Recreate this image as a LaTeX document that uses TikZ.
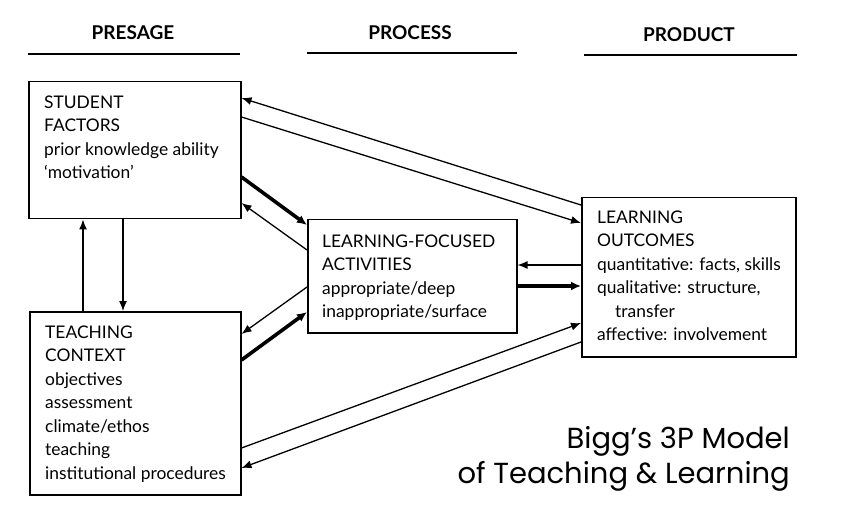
\documentclass[tikz,border=0pt]{standalone}
\usepackage{fontspec}
\setmainfont{Lato}
\newfontfamily\titlefont{Poppins}
\usetikzlibrary{arrows.meta}

\tikzset{
	box/.style={draw, line width=1.5pt, inner sep=0pt},
	boxtext/.style={anchor=north west, align=left, inner sep=0pt, font=\fontsize{17.4}{23.5}\selectfont},
	heading/.style={anchor=base, inner sep=0pt, font=\fontsize{19}{21}\selectfont\bfseries},
	thinarrow/.style={-{Latex[length=10pt,width=8pt]}, line width=1.3pt},
	thickarrow/.style={-{Latex[length=10pt,width=9pt]}, line width=3.6pt}
}

\begin{document}
\begin{tikzpicture}[x=1pt, y=-1pt]
		\useasboundingbox (0,0) rectangle (850,510);

		% headings
		\node [heading] (presage) at (133,40) {PRESAGE};
		\node [heading] (process) at (410,40) {PROCESS};
		\node [heading] (product) at (689,42) {PRODUCT};
		\draw [line width=1.4pt] (28,54) -- (240,54);
		\draw [line width=1.4pt] (307,53) -- (517,53);
		\draw [line width=1.4pt] (584,55) -- (797,55);

		% boxes
		\node [box, anchor=north west, minimum width=212pt, minimum height=137pt] (student) at (28,81) {};
		\node [box, anchor=north west, minimum width=211pt, minimum height=183pt] (teaching) at (29,311) {};
		\node [box, anchor=north west, minimum width=209pt, minimum height=113pt] (activities) at (307,219) {};
		\node [box, anchor=north west, minimum width=214pt, minimum height=159pt] (outcomes) at (581,197) {};

		\node [boxtext] (studenttext) at ([xshift=16pt, yshift=-14.4pt]student.north west)
			{STUDENT\\FACTORS\\prior knowledge ability\\‘motivation’};
		\node [boxtext] (teachingtext) at ([xshift=16pt, yshift=-14.4pt]teaching.north west)
			{TEACHING\\CONTEXT\\objectives\\assessment\\climate/ethos\\teaching\\institutional procedures};
		\node [boxtext] (activitiestext) at ([xshift=15pt, yshift=-15.4pt]activities.north west)
			{LEARNING-FOCUSED\\ACTIVITIES\\appropriate/deep\\inappropriate/surface};
		\node [boxtext] (outcomestext) at ([xshift=16pt, yshift=-13.4pt]outcomes.north west)
			{LEARNING\\OUTCOMES\\quantitative: facts, skills\\qualitative: structure,\\\hspace*{18pt}transfer\\affective: involvement};

		% student factors <-> teaching context
		\draw [thinarrow] ([xshift=54pt]teaching.north west) -- ([xshift=55pt]student.south west);
		\draw [thinarrow] ([xshift=95pt]student.south west) -- ([xshift=94pt]teaching.north west);

		% student factors <-> outcomes
		\draw [thinarrow] ([yshift=-8pt]outcomes.north west) -- ([yshift=-17pt]student.north east);
		\draw [thinarrow] ([yshift=-36pt]student.north east) -- ([yshift=-26pt]outcomes.north west);

		% student factors <-> activities
		\draw [thickarrow] ([yshift=-96pt]student.north east) -- ([yshift=-6pt]activities.north west);
		\draw [thinarrow] ([yshift=-31pt]activities.north west) -- ([yshift=-122pt]student.north east);

		% activities <-> outcomes
		\draw [thinarrow] ([yshift=-68pt]outcomes.north west) -- ([yshift=-46pt]activities.north east);
		\draw [thickarrow] ([yshift=-67pt]activities.north east) -- ([yshift=-89pt]outcomes.north west);

		% activities <-> teaching context
		\draw [thinarrow] ([yshift=-68pt]activities.north west) -- ([yshift=-23pt]teaching.north east);
		\draw [thickarrow] ([yshift=-49pt]teaching.north east) -- ([yshift=-93pt]activities.north west);

		% teaching context <-> outcomes
		\draw [thinarrow] ([yshift=-137pt]teaching.north east) -- ([yshift=-126pt]outcomes.north west);
		\draw [thinarrow] ([yshift=-145pt]outcomes.north west) -- ([yshift=-157pt]teaching.north east);

		% title
		\node [anchor=base east, align=right, inner sep=0pt, font=\titlefont\fontsize{29}{35}\selectfont] (title) at (790,483)
			{Bigg’s 3P Model\\of Teaching \& Learning};

	\end{tikzpicture}
\end{document}
